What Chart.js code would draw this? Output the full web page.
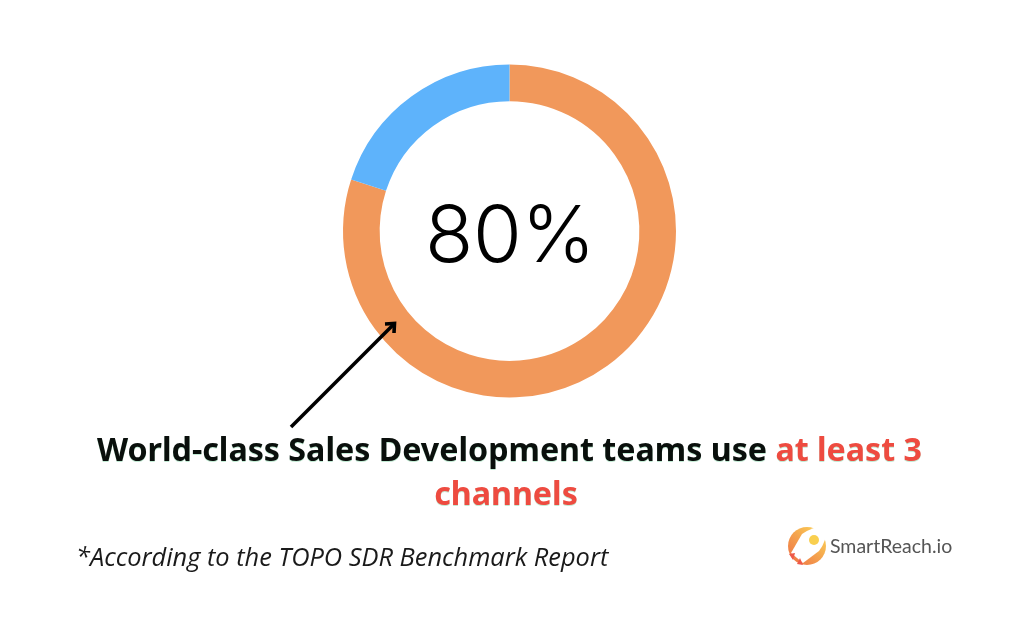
<!DOCTYPE html>
<html>
<head>
<meta charset="utf-8">
<title>World-class Sales Development teams</title>
<script src="https://cdn.jsdelivr.net/npm/chart.js@4/dist/chart.umd.min.js"></script>
<style>
html, body { margin: 0; padding: 0; background: #fff; }
#wrap { position: relative; width: 1024px; height: 620px; overflow: hidden; }
</style>
</head>
<body>
<div id="wrap"><canvas id="chart" width="1024" height="620"></canvas></div>
<script>
var categories = ['At least 3 channels', 'Other'];
var shares = [80, 20];
var sliceColors = ['#f1985b', '#5eb3fb'];

var centerLabel = '80%';
var titleDark = 'World-class Sales Development teams use ';
var titleRed = 'at least 3';
var titleLine2 = 'channels';
var footnote = '*According to the TOPO SDR Benchmark Report';
var logoText = 'SmartReach.io';

// arrow, headings, footnote and logo are drawn on top of the doughnut
var annotations = {
    id: 'annotations',
    afterDraw: function (chart) {
        var c = chart.ctx;
        c.save();
        c.textBaseline = 'alphabetic';

        // centre value
        c.fillStyle = '#000';
        c.textAlign = 'center';
        c.font = '300 79px Inter';
        c.letterSpacing = '-0.3px';
        c.fillText(centerLabel, 510, 262);
        c.letterSpacing = '0px';

        // arrow
        c.strokeStyle = '#000';
        c.lineWidth = 3.6;
        c.lineCap = 'butt';
        c.lineJoin = 'miter';
        c.beginPath();
        c.moveTo(291, 427);
        c.lineTo(394, 324);
        c.stroke();
        c.beginPath();
        c.moveTo(385, 324);
        c.lineTo(394.5, 323.5);
        c.lineTo(394, 333);
        c.stroke();

        // heading, with the faint green fringe of the original
        c.shadowColor = 'rgba(120,210,160,0.45)';
        c.shadowOffsetY = 1;
        c.textAlign = 'left';
        c.font = '700 32.2px "Noto Sans"';
        var w1 = c.measureText(titleDark).width;
        var w2 = c.measureText(titleRed).width;
        var x = 509.5 - (w1 + w2) / 2;
        c.fillStyle = '#0a0f0c';
        c.fillText(titleDark, x, 461);
        c.fillStyle = '#ee4b40';
        c.fillText(titleRed, x + w1, 461);
        c.textAlign = 'center';
        c.fillText(titleLine2, 506, 505);
        c.shadowColor = 'transparent';
        c.shadowOffsetY = 0;

        // footnote
        c.textAlign = 'left';
        c.fillStyle = '#1a1a1a';
        c.font = 'italic 400 25.4px "Open Sans"';
        c.fillText(footnote, 76, 566);

        // logo
        var g = c.createLinearGradient(792, 562, 822, 530);
        g.addColorStop(0, '#ef7746');
        g.addColorStop(0.5, '#f4a24d');
        g.addColorStop(1, '#fcd257');
        c.fillStyle = g;
        c.beginPath();
        c.arc(807, 546, 19, 0, Math.PI * 2);
        c.fill();
        c.fillStyle = '#fff';
        c.beginPath();
        c.moveTo(791, 553);
        c.lineTo(802, 534);
        c.quadraticCurveTo(812, 527, 827, 525);
        c.quadraticCurveTo(827, 541, 819, 551);
        c.lineTo(803, 563);
        c.closePath();
        c.fill();
        c.fillStyle = '#f9cf4f';
        c.beginPath();
        c.arc(814, 540, 5, 0, Math.PI * 2);
        c.fill();
        c.fillStyle = '#ee5a4a';
        c.beginPath();
        c.moveTo(789, 554);
        c.lineTo(795, 553);
        c.lineTo(793, 560);
        c.closePath();
        c.moveTo(797, 564);
        c.lineTo(800, 558);
        c.lineTo(803, 565);
        c.closePath();
        c.fill();

        c.fillStyle = '#555';
        c.font = '400 19.5px Lato';
        c.fillText(logoText, 830, 553);
        c.restore();
    }
};

var myChart = new Chart(document.getElementById('chart'), {
    type: 'doughnut',
    data: {
        labels: categories,
        datasets: [{
            data: shares,
            backgroundColor: sliceColors,
            borderWidth: 0
        }]
    },
    options: {
        responsive: false,
        animation: false,
        cutout: '78%',
        layout: {
            padding: { top: 64.5, bottom: 222.5, left: 343, right: 348 }
        },
        plugins: {
            legend: { display: false },
            tooltip: { enabled: false }
        }
    },
    plugins: [annotations]
});
</script>
</body>
</html>
